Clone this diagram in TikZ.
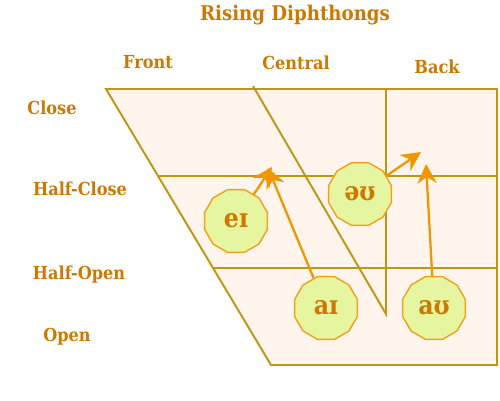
\documentclass[tikz,border=0pt]{standalone}
\usepackage{fontspec}
\newfontfamily\lblfont{DejaVu Serif Condensed Bold}
\usepackage{tikz}
\usetikzlibrary{arrows.meta,shapes.geometric}

\definecolor{txtorange}{RGB}{205,120,0}
\definecolor{gridgold}{RGB}{190,150,20}
\definecolor{panelfill}{RGB}{255,245,236}
\definecolor{vowelfill}{RGB}{230,245,160}
\definecolor{vowelline}{RGB}{240,160,30}
\definecolor{glide}{RGB}{240,150,0}

\begin{document}
\begin{tikzpicture}[x=0.02cm, y=-0.02cm, font=\lblfont]

\tikzstyle{heading} = [text=txtorange, font=\lblfont\fontsize{11.5}{13}\selectfont]
\tikzstyle{axis}    = [text=txtorange, font=\lblfont\fontsize{10.2}{12}\selectfont]
\tikzstyle{grid}    = [draw=gridgold, line width=1.1pt]
\tikzstyle{vowel}   = [regular polygon, regular polygon sides=12,
                       draw=vowelline, line width=0.8pt, fill=vowelfill,
                       minimum size=1.3cm, inner sep=0pt, text=txtorange,
                       font=\lblfont\fontsize{15}{17}\selectfont]
\tikzstyle{move}    = [draw=glide, line width=1.3pt,
                       -{Stealth[length=11pt,width=11pt]}]

\useasboundingbox (0,0) rectangle (500,400);

% ── Title and axis labels ─────────────────────────────
\node[heading] (title)   at (295,15)  {Rising Diphthongs};
\node[axis]    (front)   at (148,62)  {Front};
\node[axis]    (central) at (296,63)  {Central};
\node[axis]    (back)    at (437,67)  {Back};
\node[axis]    (close)   at (52,108)  {Close};
\node[axis]    (hclose)  at (80,189)  {Half-Close};
\node[axis]    (hopen)   at (79,275)  {Half-Open};
\node[axis]    (open)    at (67,337)  {Open};

% ── Vowel trapezium ───────────────────────────────────
\path[grid, fill=panelfill] (106,89) -- (497,89) -- (497,365) -- (271,365) -- cycle;
\draw[grid] (158,176) -- (497,176);
\draw[grid] (213,268) -- (497,268);
\draw[grid] (253,86) -- (386,314) -- (386,89);

% ── Diphthong start points ────────────────────────────
\node[vowel] (ei) at (236,221) {eɪ};
\node[vowel] (ou) at (360,194) {əʊ};
\node[vowel] (ai) at (326,308) {aɪ};
\node[vowel] (au) at (434,308) {aʊ};

\coordinate (eiend) at (272,167);
\coordinate (aiend) at (268,168);
\coordinate (ouend) at (421,152);
\coordinate (auend) at (426,164);

% ── Glides ────────────────────────────────────────────
\draw[move] (ei) -- (eiend);
\draw[move] (ai) -- (aiend);
\draw[move] (ou) -- (ouend);
\draw[move] (au) -- (auend);

\end{tikzpicture}
\end{document}
